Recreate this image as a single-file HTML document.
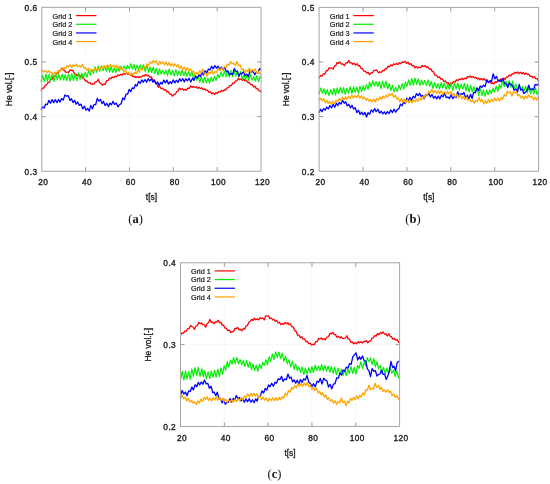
<!DOCTYPE html>
<html><head><meta charset="utf-8"><style>
html,body{margin:0;padding:0;background:#fff;}
svg{display:block;}
.tk{stroke:#9a9a9a;stroke-width:1;}
.gr{stroke:#f8f8f8;stroke-width:1;}
.xl{letter-spacing:0.4px;}
.fr{stroke:#a6a6a6;stroke-width:1.0;}
.tl{font-family:"Liberation Sans", "DejaVu Sans", sans-serif;font-size:8.3px;fill:#1a1a1a;stroke:#1a1a1a;stroke-width:0.35px;}
.lg{font-family:"Liberation Sans", "DejaVu Sans", sans-serif;font-size:7.3px;fill:#1a1a1a;stroke:#1a1a1a;stroke-width:0.2px;}
.al{font-family:"Liberation Sans", "DejaVu Sans", sans-serif;font-size:8.4px;fill:#1a1a1a;stroke:#1a1a1a;stroke-width:0.3px;}
.cap{font-family:"Liberation Serif", "DejaVu Serif", serif;font-size:12.5px;fill:#111;}
</style></head><body>
<svg width="550" height="484" viewBox="0 0 550 484">
<line x1="85.64" y1="7.35" x2="85.64" y2="171.25" class="gr"/>
<line x1="129.48" y1="7.35" x2="129.48" y2="171.25" class="gr"/>
<line x1="173.32" y1="7.35" x2="173.32" y2="171.25" class="gr"/>
<line x1="217.16" y1="7.35" x2="217.16" y2="171.25" class="gr"/>
<line x1="41.8" y1="116.62" x2="261.0" y2="116.62" class="gr"/>
<line x1="41.8" y1="61.98" x2="261.0" y2="61.98" class="gr"/>
<text x="43.20" y="185.05" class="tl xl" text-anchor="middle">20</text>
<line x1="85.64" y1="171.25" x2="85.64" y2="167.25" class="tk"/>
<line x1="85.64" y1="7.35" x2="85.64" y2="11.35" class="tk"/>
<text x="87.04" y="185.05" class="tl xl" text-anchor="middle">40</text>
<line x1="129.48" y1="171.25" x2="129.48" y2="167.25" class="tk"/>
<line x1="129.48" y1="7.35" x2="129.48" y2="11.35" class="tk"/>
<text x="130.88" y="185.05" class="tl xl" text-anchor="middle">60</text>
<line x1="173.32" y1="171.25" x2="173.32" y2="167.25" class="tk"/>
<line x1="173.32" y1="7.35" x2="173.32" y2="11.35" class="tk"/>
<text x="174.72" y="185.05" class="tl xl" text-anchor="middle">80</text>
<line x1="217.16" y1="171.25" x2="217.16" y2="167.25" class="tk"/>
<line x1="217.16" y1="7.35" x2="217.16" y2="11.35" class="tk"/>
<text x="218.56" y="185.05" class="tl xl" text-anchor="middle">100</text>
<text x="262.40" y="185.05" class="tl xl" text-anchor="middle">120</text>
<text x="37.00" y="174.65" class="tl" text-anchor="end">0<tspan dx="0.65">.</tspan><tspan dx="0.35">3</tspan></text>
<line x1="41.8" y1="116.62" x2="45.8" y2="116.62" class="tk"/>
<line x1="261.0" y1="116.62" x2="257.0" y2="116.62" class="tk"/>
<text x="37.00" y="120.02" class="tl" text-anchor="end">0<tspan dx="0.65">.</tspan><tspan dx="0.35">4</tspan></text>
<line x1="41.8" y1="61.98" x2="45.8" y2="61.98" class="tk"/>
<line x1="261.0" y1="61.98" x2="257.0" y2="61.98" class="tk"/>
<text x="37.00" y="65.38" class="tl" text-anchor="end">0<tspan dx="0.65">.</tspan><tspan dx="0.35">5</tspan></text>
<text x="37.00" y="10.75" class="tl" text-anchor="end">0<tspan dx="0.65">.</tspan><tspan dx="0.35">6</tspan></text>
<polyline points="41.0,90.8 42.5,88.1 43.8,88.0 45.2,85.3 46.7,84.8 48.0,82.3 49.4,82.3 50.7,79.7 52.1,79.2 53.6,76.4 54.9,76.2 56.3,73.6 57.7,73.4 59.1,71.0 60.4,70.6 61.8,68.1 63.1,69.8 64.5,70.3 65.8,72.4 67.2,72.0 68.6,72.4 70.1,69.9 71.4,70.5 72.9,70.3 74.3,73.6 75.7,74.0 77.1,75.5 78.6,74.3 80.0,76.0 81.3,75.7 82.7,78.2 84.1,78.8 85.6,81.2 87.0,80.9 88.4,83.0 89.8,82.5 91.1,84.2 92.5,83.8 94.0,84.2 95.3,81.9 96.8,81.8 98.2,79.2 99.5,82.4 101.0,83.5 102.4,85.2 103.8,83.9 105.1,84.5 106.6,80.9 108.1,80.3 109.5,78.1 110.8,78.7 112.3,77.0 113.7,77.7 115.1,76.1 116.4,76.8 117.8,75.0 119.2,75.6 120.6,74.2 122.0,75.1 123.5,73.3 124.9,74.3 126.4,73.0 127.7,74.4 129.0,73.6 130.4,75.1 131.8,74.9 133.1,76.9 134.5,76.3 135.9,77.6 137.2,76.5 138.6,77.6 140.0,76.6 141.3,77.1 142.8,75.4 144.2,76.1 145.6,74.4 146.9,75.7 148.4,75.3 149.8,77.0 151.2,76.8 152.7,79.7 154.1,80.1 155.6,83.1 157.0,84.2 158.4,87.1 159.8,86.6 161.2,88.6 162.7,88.3 164.2,90.2 165.6,89.6 166.9,91.8 168.2,91.5 169.7,94.2 171.0,94.0 172.5,96.1 173.9,94.7 175.3,94.2 176.7,91.5 178.1,90.9 179.5,88.1 180.9,89.5 182.4,88.7 183.7,90.3 185.0,89.3 186.5,90.3 187.8,88.1 189.3,88.4 190.7,85.9 192.1,87.4 193.6,86.4 195.1,87.6 196.4,86.6 197.7,88.3 199.2,87.2 200.5,88.7 201.9,87.8 203.3,89.7 204.8,88.9 206.2,90.3 207.5,90.2 209.0,92.3 210.5,91.9 211.9,93.8 213.3,92.9 214.6,94.4 215.9,92.6 217.4,93.4 218.7,91.5 220.2,92.2 221.5,90.4 222.8,91.2 224.3,89.9 225.6,90.1 227.0,87.8 228.4,87.7 229.8,85.6 231.3,85.5 232.8,83.1 234.2,83.2 235.5,81.0 237.0,80.7 238.3,78.3 239.6,79.8 241.0,78.9 242.3,80.4 243.8,79.1 245.1,81.1 246.6,80.5 248.0,82.7 249.4,82.5 250.8,84.6 252.2,84.6 253.5,86.8 254.9,86.3 256.3,88.7 257.7,88.5 259.1,90.9 260.6,91.0 261.0,92.2" fill="none" stroke="#ff0000" stroke-width="1.3" stroke-linejoin="round"/>
<polyline points="41.0,81.9 42.7,75.2 44.3,81.6 45.9,74.0 47.5,81.0 49.2,74.1 50.7,80.6 52.3,73.7 54.1,81.5 55.7,74.2 57.3,79.6 58.8,74.1 60.4,80.2 62.1,74.1 63.7,80.1 65.2,74.6 66.8,80.6 68.5,73.8 70.1,81.1 71.7,73.5 73.5,80.5 75.2,73.9 76.9,80.6 78.5,72.9 80.1,79.4 81.8,73.1 83.5,78.2 85.2,72.2 86.9,77.2 88.5,70.7 90.3,75.2 91.9,69.4 93.5,73.5 95.0,66.7 96.6,72.3 98.2,65.8 99.8,71.3 101.5,65.9 103.1,70.8 104.7,66.1 106.4,71.3 107.9,65.9 109.6,72.2 111.1,66.5 112.7,72.4 114.2,68.0 115.9,72.4 117.6,66.8 119.1,71.3 120.9,66.2 122.5,70.0 124.1,65.9 125.8,69.5 127.5,65.4 129.2,68.8 130.8,63.7 132.3,69.0 134.0,64.4 135.5,70.4 137.0,65.0 138.6,69.9 140.3,64.9 141.9,69.4 143.5,64.5 145.2,71.6 146.9,65.3 148.6,72.2 150.1,67.0 151.7,72.5 153.3,67.2 154.8,73.9 156.4,68.5 158.0,75.2 159.5,68.9 161.1,74.2 162.8,70.1 164.3,74.4 165.8,70.3 167.5,75.3 169.2,69.0 171.0,75.0 172.6,70.3 174.3,75.8 175.9,69.7 177.5,75.6 179.1,71.0 180.7,75.7 182.2,70.0 183.8,75.5 185.3,71.2 186.9,76.5 188.5,71.4 190.1,76.4 191.9,71.4 193.5,78.6 195.2,73.8 196.7,80.1 198.3,76.0 199.8,82.3 201.4,76.8 203.2,83.1 204.7,77.0 206.3,82.9 208.0,78.2 209.6,83.1 211.2,77.2 212.9,81.6 214.5,76.4 216.1,80.5 217.7,74.5 219.4,77.6 221.1,71.9 222.8,76.9 224.4,71.2 226.0,76.7 227.5,72.1 229.2,76.9 230.9,70.4 232.5,76.7 234.1,70.5 235.8,76.3 237.4,70.7 239.0,77.2 240.6,71.3 242.3,79.3 244.0,74.3 245.5,80.0 247.1,74.5 248.8,80.6 250.4,73.9 252.0,80.4 253.7,76.4 255.3,81.2 256.8,75.5 258.6,81.8 260.1,76.1 261.0,78.5" fill="none" stroke="#00ee00" stroke-width="1.15" stroke-linejoin="round"/>
<polyline points="41.0,109.7 42.6,106.9 44.2,108.1 45.7,104.1 47.4,104.6 48.9,100.3 50.5,103.2 52.1,99.6 53.7,102.6 55.3,99.6 57.0,102.6 58.5,99.5 60.1,102.1 61.6,98.5 63.2,100.1 64.9,94.9 66.6,96.2 68.3,95.6 70.0,100.5 71.5,98.7 73.0,102.6 74.6,100.3 76.1,104.2 77.7,102.0 79.3,105.4 81.0,104.1 82.7,108.9 84.4,106.2 86.0,110.2 87.7,108.4 89.3,111.1 90.8,105.4 92.4,108.8 93.9,104.7 95.7,104.5 97.3,98.4 98.8,101.1 100.5,99.5 102.0,103.6 103.5,101.4 105.1,105.5 106.8,103.3 108.5,106.6 110.0,103.1 111.5,104.8 113.0,101.3 114.6,104.4 116.3,103.0 118.0,106.9 119.5,104.7 121.1,103.7 122.8,98.0 124.4,99.5 126.0,94.2 127.6,94.2 129.2,89.4 130.8,91.6 132.3,87.8 133.9,88.6 135.5,84.5 137.0,86.1 138.6,81.4 140.2,83.4 141.8,79.9 143.3,82.2 145.0,79.7 146.6,82.2 148.2,78.7 149.7,81.0 151.4,78.9 152.9,82.1 154.4,80.1 156.1,84.0 157.6,82.0 159.2,85.5 160.7,82.4 162.2,84.0 163.8,80.1 165.4,82.9 166.9,80.0 168.5,84.1 170.1,81.7 171.6,83.5 173.2,79.9 174.9,82.9 176.4,80.2 178.0,82.4 179.6,78.7 181.1,81.3 182.7,78.5 184.3,81.9 185.8,78.7 187.4,80.8 189.1,78.2 190.8,82.0 192.5,78.2 194.0,80.4 195.7,76.1 197.3,78.1 198.9,74.8 200.4,76.5 201.9,72.4 203.4,75.0 205.1,70.7 206.8,73.1 208.4,69.1 210.0,69.9 211.6,66.3 213.2,68.8 214.9,65.6 216.5,68.2 218.1,66.2 219.8,69.4 221.3,67.1 223.0,70.1 224.7,67.5 226.4,71.9 227.8,70.7 229.5,74.7 231.1,73.6 232.7,74.5 234.3,68.5 235.8,71.3 237.3,71.5 238.8,76.2 240.4,73.3 242.0,73.5 243.6,71.6 245.2,75.6 246.8,74.1 248.4,76.6 250.0,70.5 251.5,72.3 253.1,71.0 254.7,74.8 256.3,72.3 257.9,73.0 259.5,68.7 261.0,69.5" fill="none" stroke="#0000ff" stroke-width="1.3" stroke-linejoin="round"/>
<polyline points="41.0,71.2 42.5,70.2 43.9,72.0 45.5,70.7 47.1,72.6 48.6,70.6 50.1,72.6 51.5,72.1 53.2,74.6 54.8,72.0 56.3,73.4 57.8,70.9 59.5,72.0 60.9,68.8 62.5,69.8 64.0,67.3 65.5,68.9 67.1,65.7 68.6,67.2 70.2,64.9 71.8,67.4 73.3,64.8 74.9,66.1 76.4,64.1 77.8,66.7 79.4,65.4 80.9,67.2 82.5,64.5 83.9,68.3 85.4,67.7 86.9,70.4 88.5,68.5 90.1,71.3 91.5,69.0 93.0,71.1 94.6,68.4 96.1,70.3 97.7,67.9 99.2,70.0 100.9,66.5 102.6,68.5 104.1,65.6 105.7,68.1 107.3,65.0 109.0,67.1 110.4,64.3 111.9,67.0 113.6,65.1 115.0,67.6 116.5,65.5 118.0,68.7 119.4,66.3 121.0,69.6 122.4,68.4 123.9,71.8 125.4,70.3 126.9,73.4 128.6,72.3 130.1,75.8 131.7,72.8 133.2,74.8 134.7,72.1 136.3,73.5 137.9,70.1 139.5,72.0 140.9,68.8 142.4,69.9 144.1,66.5 145.5,68.1 147.1,63.6 148.6,66.0 150.2,61.8 151.8,63.7 153.3,60.5 154.9,62.3 156.5,60.9 158.1,65.2 159.7,61.4 161.3,63.9 162.9,61.7 164.5,65.0 166.0,62.0 167.6,65.4 169.1,62.4 170.5,66.0 172.1,63.6 173.6,66.4 175.1,63.8 176.8,67.0 178.2,64.7 179.7,68.6 181.1,65.9 182.7,69.8 184.3,67.1 185.8,70.8 187.3,67.8 188.9,70.9 190.5,68.8 191.9,72.2 193.5,70.9 195.0,75.3 196.6,72.6 198.1,74.2 199.7,70.7 201.2,72.9 202.7,69.1 204.2,73.9 205.8,73.2 207.2,76.3 208.8,72.1 210.3,73.6 212.0,70.4 213.4,74.2 214.9,71.5 216.5,72.4 218.2,68.4 219.8,70.5 221.3,68.0 222.8,70.6 224.4,66.3 225.9,67.9 227.4,64.0 229.0,65.3 230.5,61.5 232.1,63.7 233.7,63.4 235.3,65.5 236.9,61.5 238.5,65.8 240.2,65.0 241.8,70.1 243.4,68.7 244.8,72.7 246.4,70.4 247.8,71.6 249.3,68.1 250.8,72.4 252.3,69.2 253.8,71.4 255.3,68.9 256.9,73.5 258.5,71.7 260.0,74.1 261.0,73.2" fill="none" stroke="#ffa500" stroke-width="1.3" stroke-linejoin="round"/>
<rect x="50.5" y="12.3" width="48" height="34" fill="#fff"/>
<text x="52.5" y="18.50" class="lg">Grid 1</text>
<line x1="76.1" y1="15.60" x2="96.5" y2="15.60" stroke="#ff0000" stroke-width="1.2"/>
<text x="52.5" y="27.17" class="lg">Grid 2</text>
<line x1="76.1" y1="24.27" x2="96.5" y2="24.27" stroke="#00ee00" stroke-width="1.2"/>
<text x="52.5" y="35.84" class="lg">Grid 3</text>
<line x1="76.1" y1="32.94" x2="96.5" y2="32.94" stroke="#0000ff" stroke-width="1.2"/>
<text x="52.5" y="44.51" class="lg">Grid 4</text>
<line x1="76.1" y1="41.61" x2="96.5" y2="41.61" stroke="#ffa500" stroke-width="1.2"/>
<rect x="41.8" y="7.35" width="219.20" height="163.90" fill="none" class="fr"/>
<text x="151.40" y="199.95" class="al" text-anchor="middle">t[s]</text>
<text transform="translate(11.80,89.40) rotate(-90)" class="al" text-anchor="middle">He vol.[-]</text>
<text x="135.5" y="222.85" class="cap" text-anchor="middle">(<tspan font-weight="bold">a</tspan>)</text>
<line x1="363.00" y1="7.4" x2="363.00" y2="171.25" class="gr"/>
<line x1="406.90" y1="7.4" x2="406.90" y2="171.25" class="gr"/>
<line x1="450.80" y1="7.4" x2="450.80" y2="171.25" class="gr"/>
<line x1="494.70" y1="7.4" x2="494.70" y2="171.25" class="gr"/>
<line x1="319.1" y1="116.63" x2="538.6" y2="116.63" class="gr"/>
<line x1="319.1" y1="62.02" x2="538.6" y2="62.02" class="gr"/>
<text x="320.50" y="185.05" class="tl xl" text-anchor="middle">20</text>
<line x1="363.00" y1="171.25" x2="363.00" y2="167.25" class="tk"/>
<line x1="363.00" y1="7.4" x2="363.00" y2="11.4" class="tk"/>
<text x="364.40" y="185.05" class="tl xl" text-anchor="middle">40</text>
<line x1="406.90" y1="171.25" x2="406.90" y2="167.25" class="tk"/>
<line x1="406.90" y1="7.4" x2="406.90" y2="11.4" class="tk"/>
<text x="408.30" y="185.05" class="tl xl" text-anchor="middle">60</text>
<line x1="450.80" y1="171.25" x2="450.80" y2="167.25" class="tk"/>
<line x1="450.80" y1="7.4" x2="450.80" y2="11.4" class="tk"/>
<text x="452.20" y="185.05" class="tl xl" text-anchor="middle">80</text>
<line x1="494.70" y1="171.25" x2="494.70" y2="167.25" class="tk"/>
<line x1="494.70" y1="7.4" x2="494.70" y2="11.4" class="tk"/>
<text x="496.10" y="185.05" class="tl xl" text-anchor="middle">100</text>
<text x="540.00" y="185.05" class="tl xl" text-anchor="middle">120</text>
<text x="314.30" y="174.65" class="tl" text-anchor="end">0<tspan dx="0.65">.</tspan><tspan dx="0.35">2</tspan></text>
<line x1="319.1" y1="116.63" x2="323.1" y2="116.63" class="tk"/>
<line x1="538.6" y1="116.63" x2="534.6" y2="116.63" class="tk"/>
<text x="314.30" y="120.03" class="tl" text-anchor="end">0<tspan dx="0.65">.</tspan><tspan dx="0.35">3</tspan></text>
<line x1="319.1" y1="62.02" x2="323.1" y2="62.02" class="tk"/>
<line x1="538.6" y1="62.02" x2="534.6" y2="62.02" class="tk"/>
<text x="314.30" y="65.42" class="tl" text-anchor="end">0<tspan dx="0.65">.</tspan><tspan dx="0.35">4</tspan></text>
<text x="314.30" y="10.80" class="tl" text-anchor="end">0<tspan dx="0.65">.</tspan><tspan dx="0.35">5</tspan></text>
<polyline points="319.0,78.2 320.5,75.6 321.9,76.2 323.4,73.8 324.8,74.0 326.3,70.7 327.6,70.8 328.9,67.9 330.3,68.2 331.7,67.9 333.2,69.1 334.5,65.8 335.8,65.6 337.1,62.6 338.6,63.3 340.0,62.0 341.4,64.2 342.9,63.9 344.4,65.7 345.9,62.8 347.4,62.9 348.7,60.6 350.0,62.9 351.4,62.8 352.8,64.3 354.2,63.3 355.6,65.0 357.0,63.7 358.4,66.0 359.7,65.4 361.0,68.4 362.4,68.6 363.9,71.2 365.3,71.2 366.6,72.9 368.1,72.5 369.6,74.6 371.1,72.8 372.4,72.9 373.9,70.3 375.4,70.3 376.8,70.0 378.3,72.7 379.7,71.9 381.2,72.5 382.7,70.3 384.0,70.8 385.4,68.6 386.7,68.7 388.2,66.1 389.5,66.9 390.9,64.9 392.2,65.8 393.7,63.8 395.1,64.7 396.6,63.4 398.0,64.5 399.3,62.6 400.8,63.7 402.3,61.9 403.6,62.5 405.1,61.4 406.5,63.4 408.0,62.2 409.4,64.3 410.8,63.7 412.2,65.9 413.5,65.4 415.0,67.9 416.4,66.6 417.8,68.1 419.2,67.0 420.6,67.8 422.1,65.6 423.5,66.6 425.0,65.6 426.4,67.5 427.8,66.7 429.3,69.0 430.8,68.9 432.2,71.3 433.6,71.9 435.0,75.2 436.5,75.4 437.9,77.5 439.4,76.9 440.8,79.2 442.3,78.7 443.8,81.5 445.3,80.9 446.7,83.1 448.1,82.6 449.5,85.2 451.0,82.9 452.3,83.7 453.7,81.3 455.1,82.0 456.6,79.9 458.0,80.6 459.3,79.0 460.8,79.7 462.2,78.2 463.5,79.5 464.9,78.1 466.2,78.9 467.5,76.7 468.8,77.2 470.2,76.0 471.6,77.5 473.1,76.6 474.5,78.0 475.9,77.4 477.3,79.1 478.6,78.1 479.9,79.8 481.3,78.4 482.8,80.0 484.2,78.4 485.6,80.5 486.9,79.8 488.4,82.1 489.9,81.3 491.2,83.6 492.5,82.8 493.9,83.9 495.3,81.7 496.7,82.3 498.1,80.4 499.5,81.2 500.9,78.8 502.3,80.1 503.7,78.1 505.1,79.4 506.5,77.0 507.8,77.0 509.2,75.0 510.7,75.9 512.0,73.8 513.5,74.2 514.9,72.2 516.4,73.2 517.7,72.0 519.1,73.6 520.4,72.2 521.8,73.9 523.2,72.5 524.6,74.3 525.9,72.9 527.3,74.5 528.7,74.1 530.1,76.5 531.5,76.1 532.8,77.7 534.3,76.6 535.7,78.7 537.2,78.7 538.6,81.3 538.6,80.5" fill="none" stroke="#ff0000" stroke-width="1.3" stroke-linejoin="round"/>
<polyline points="319.0,94.0 320.7,88.0 322.3,93.2 323.9,88.6 325.6,94.5 327.3,89.6 329.0,95.7 330.6,89.5 332.3,94.6 333.9,88.5 335.5,95.1 337.2,88.0 338.7,93.4 340.4,87.5 342.1,93.1 343.6,87.7 345.2,94.4 346.8,88.3 348.5,93.2 350.2,86.8 351.9,93.5 353.5,86.9 355.3,92.3 356.9,87.0 358.4,93.1 360.0,86.1 361.6,91.3 363.3,85.9 364.8,90.7 366.3,84.6 368.1,89.3 369.6,81.9 371.1,87.2 372.8,80.7 374.4,86.0 376.0,81.6 377.7,86.5 379.3,81.5 380.9,88.8 382.5,81.0 384.2,87.5 385.9,81.1 387.6,88.7 389.3,83.7 390.9,90.5 392.5,85.1 394.0,91.9 395.7,87.3 397.2,91.6 398.9,85.0 400.4,89.7 402.2,83.7 403.8,89.0 405.4,82.1 407.0,86.4 408.6,79.9 410.2,85.3 411.7,78.5 413.5,85.1 415.1,78.2 416.7,84.5 418.3,78.9 420.0,85.4 421.5,80.1 423.0,84.8 424.7,80.4 426.4,85.4 428.1,79.8 429.7,86.3 431.4,81.5 433.0,88.4 434.7,82.5 436.3,88.0 437.9,83.6 439.6,88.9 441.1,82.7 442.6,88.0 444.3,83.0 446.0,89.3 447.7,84.4 449.4,89.3 451.0,83.4 452.8,90.4 454.4,83.4 456.1,88.9 457.8,83.0 459.4,90.0 461.0,84.1 462.7,89.0 464.4,83.3 466.0,90.9 467.5,84.3 469.1,92.1 470.7,85.4 472.2,91.6 473.9,86.7 475.5,92.3 477.1,88.1 478.6,95.4 480.3,88.9 482.0,95.5 483.5,89.8 485.0,96.4 486.6,90.2 488.1,94.7 489.8,89.9 491.4,93.6 493.0,88.1 494.6,92.2 496.2,86.2 497.8,91.3 499.4,84.4 501.0,88.2 502.6,81.6 504.3,86.7 505.9,81.0 507.5,85.9 509.2,80.6 510.9,87.3 512.6,81.0 514.1,88.5 515.9,83.9 517.5,89.8 519.1,85.6 520.7,90.4 522.4,86.4 524.0,91.2 525.7,86.1 527.2,92.8 528.9,87.6 530.6,93.9 532.3,88.8 533.9,93.9 535.5,87.8 537.0,94.6 538.6,90.5" fill="none" stroke="#00ee00" stroke-width="1.15" stroke-linejoin="round"/>
<polyline points="319.0,112.7 320.5,109.2 322.0,111.8 323.6,108.6 325.2,110.1 326.8,107.1 328.3,108.9 329.9,105.5 331.5,107.9 333.2,104.3 334.8,107.4 336.3,103.2 337.8,105.6 339.3,102.6 341.0,104.1 342.6,100.4 344.2,103.2 345.7,101.8 347.2,105.9 348.8,104.2 350.4,107.8 352.0,105.3 353.6,109.1 355.2,107.7 356.9,112.5 358.5,110.3 360.0,114.4 361.6,112.1 363.2,114.8 364.9,112.5 366.5,117.0 368.0,112.7 369.7,114.3 371.3,109.9 373.0,112.2 374.6,108.6 376.2,111.7 378.0,109.3 379.5,113.1 381.2,111.2 382.7,113.9 384.3,111.8 385.9,114.2 387.5,111.6 389.1,113.6 390.7,109.9 392.4,112.6 394.1,109.3 395.7,112.2 397.4,109.4 398.9,108.9 400.4,104.1 402.0,105.7 403.6,102.2 405.2,103.5 406.8,98.2 408.4,101.0 410.0,97.3 411.5,100.4 413.2,96.2 414.9,97.9 416.5,93.6 418.1,95.6 419.6,93.3 421.1,96.4 422.6,95.3 424.1,98.8 425.7,95.2 427.4,95.7 428.9,93.6 430.4,97.0 432.0,94.4 433.7,98.3 435.3,96.2 436.8,98.9 438.3,96.0 439.8,99.0 441.5,95.1 443.1,96.9 444.5,92.8 446.3,97.7 447.9,97.0 449.5,98.5 451.1,94.8 452.8,98.7 454.3,96.5 456.1,97.6 457.7,91.7 459.4,96.0 461.0,93.5 462.5,94.4 464.0,92.4 465.7,98.2 467.3,95.2 469.0,98.9 470.5,94.3 472.1,98.6 473.6,92.3 475.3,92.8 476.9,87.9 478.6,90.6 480.2,86.0 481.9,87.4 483.5,85.1 485.1,86.6 486.8,79.9 488.4,82.6 490.1,80.6 491.6,81.6 493.1,73.8 494.8,78.8 496.5,76.5 498.1,80.9 499.7,80.2 501.2,81.8 502.9,78.5 504.6,83.6 506.3,84.0 507.8,87.5 509.3,83.2 511.0,84.4 512.5,85.8 514.2,90.2 515.8,88.9 517.5,92.1 519.2,84.5 520.8,90.1 522.3,89.3 523.8,93.6 525.5,92.1 527.1,90.6 528.7,85.2 530.3,89.7 532.0,88.7 533.6,89.8 535.1,84.5 536.7,85.2 538.4,83.7 538.6,85.8" fill="none" stroke="#0000ff" stroke-width="1.3" stroke-linejoin="round"/>
<polyline points="319.0,99.8 320.7,98.2 322.3,100.9 323.7,98.6 325.2,102.5 326.8,100.3 328.3,103.4 329.9,101.8 331.4,104.1 332.9,101.3 334.6,103.3 336.0,100.3 337.7,101.7 339.3,98.6 340.9,100.3 342.5,97.1 344.0,99.9 345.6,96.8 347.1,99.4 348.6,96.1 350.3,98.6 351.9,95.2 353.4,98.1 355.0,95.5 356.6,97.5 358.2,94.7 359.9,98.2 361.4,95.9 362.9,98.9 364.4,97.0 366.1,100.3 367.7,98.5 369.2,101.4 370.7,99.5 372.2,102.0 373.8,99.0 375.3,101.9 376.8,98.3 378.4,100.2 380.1,97.0 381.5,99.4 383.0,96.2 384.5,98.1 386.1,95.2 387.6,97.2 389.1,94.0 390.6,95.4 392.1,93.4 393.7,97.3 395.3,95.3 396.8,99.1 398.2,98.1 399.8,101.7 401.3,98.5 402.8,102.2 404.2,99.0 405.7,102.8 407.3,99.6 408.9,102.9 410.5,100.5 412.0,102.9 413.5,99.7 415.0,101.8 416.6,99.0 418.0,101.3 419.6,97.9 421.2,100.1 422.7,96.5 424.2,97.9 425.6,93.9 427.2,95.6 428.7,91.6 430.2,92.5 431.9,89.2 433.4,92.9 434.9,90.7 436.4,93.5 438.0,90.9 439.6,93.7 441.2,90.7 442.9,94.0 444.4,91.9 446.0,94.4 447.7,91.2 449.2,94.2 450.9,91.6 452.4,95.6 453.9,93.4 455.5,97.1 457.0,94.5 458.6,97.8 460.2,94.8 461.8,98.8 463.4,96.4 464.9,99.6 466.5,97.1 468.0,100.5 469.6,98.9 471.1,101.7 472.7,100.0 474.2,103.3 475.8,100.4 477.4,101.6 479.0,97.2 480.6,101.7 482.1,99.4 483.6,103.9 485.2,100.8 486.8,103.1 488.4,99.6 490.0,102.4 491.6,99.1 493.2,101.3 494.7,98.0 496.3,101.0 498.0,98.2 499.5,101.0 501.1,97.5 502.6,99.3 504.2,94.6 505.7,96.4 507.3,91.2 508.9,92.9 510.4,91.9 511.9,96.0 513.4,91.7 514.9,93.1 516.4,91.3 517.9,95.8 519.4,94.4 520.9,97.9 522.5,96.2 523.9,99.2 525.5,95.9 527.1,98.3 528.7,94.8 530.3,97.8 531.9,96.2 533.6,99.7 535.1,97.3 536.6,100.2 538.0,96.9 538.6,98.6" fill="none" stroke="#ffa500" stroke-width="1.3" stroke-linejoin="round"/>
<rect x="327.8" y="12.3" width="48" height="34" fill="#fff"/>
<text x="329.8" y="18.50" class="lg">Grid 1</text>
<line x1="353.40000000000003" y1="15.60" x2="373.8" y2="15.60" stroke="#ff0000" stroke-width="1.2"/>
<text x="329.8" y="27.17" class="lg">Grid 2</text>
<line x1="353.40000000000003" y1="24.27" x2="373.8" y2="24.27" stroke="#00ee00" stroke-width="1.2"/>
<text x="329.8" y="35.84" class="lg">Grid 3</text>
<line x1="353.40000000000003" y1="32.94" x2="373.8" y2="32.94" stroke="#0000ff" stroke-width="1.2"/>
<text x="329.8" y="44.51" class="lg">Grid 4</text>
<line x1="353.40000000000003" y1="41.61" x2="373.8" y2="41.61" stroke="#ffa500" stroke-width="1.2"/>
<rect x="319.1" y="7.4" width="219.50" height="163.85" fill="none" class="fr"/>
<text x="428.85" y="199.95" class="al" text-anchor="middle">t[s]</text>
<text transform="translate(289.10,89.42) rotate(-90)" class="al" text-anchor="middle">He vol.[-]</text>
<text x="413" y="222.85" class="cap" text-anchor="middle">(<tspan font-weight="bold">b</tspan>)</text>
<line x1="224.32" y1="262.8" x2="224.32" y2="426.45" class="gr"/>
<line x1="268.14" y1="262.8" x2="268.14" y2="426.45" class="gr"/>
<line x1="311.96" y1="262.8" x2="311.96" y2="426.45" class="gr"/>
<line x1="355.78" y1="262.8" x2="355.78" y2="426.45" class="gr"/>
<line x1="180.5" y1="344.62" x2="399.6" y2="344.62" class="gr"/>
<text x="181.90" y="441.15" class="tl xl" text-anchor="middle">20</text>
<line x1="224.32" y1="426.45" x2="224.32" y2="422.45" class="tk"/>
<line x1="224.32" y1="262.8" x2="224.32" y2="266.8" class="tk"/>
<text x="225.72" y="441.15" class="tl xl" text-anchor="middle">40</text>
<line x1="268.14" y1="426.45" x2="268.14" y2="422.45" class="tk"/>
<line x1="268.14" y1="262.8" x2="268.14" y2="266.8" class="tk"/>
<text x="269.54" y="441.15" class="tl xl" text-anchor="middle">60</text>
<line x1="311.96" y1="426.45" x2="311.96" y2="422.45" class="tk"/>
<line x1="311.96" y1="262.8" x2="311.96" y2="266.8" class="tk"/>
<text x="313.36" y="441.15" class="tl xl" text-anchor="middle">80</text>
<line x1="355.78" y1="426.45" x2="355.78" y2="422.45" class="tk"/>
<line x1="355.78" y1="262.8" x2="355.78" y2="266.8" class="tk"/>
<text x="357.18" y="441.15" class="tl xl" text-anchor="middle">100</text>
<text x="401.00" y="441.15" class="tl xl" text-anchor="middle">120</text>
<text x="175.70" y="429.85" class="tl" text-anchor="end">0<tspan dx="0.65">.</tspan><tspan dx="0.35">2</tspan></text>
<line x1="180.5" y1="344.62" x2="184.5" y2="344.62" class="tk"/>
<line x1="399.6" y1="344.62" x2="395.6" y2="344.62" class="tk"/>
<text x="175.70" y="348.02" class="tl" text-anchor="end">0<tspan dx="0.65">.</tspan><tspan dx="0.35">3</tspan></text>
<text x="175.70" y="266.20" class="tl" text-anchor="end">0<tspan dx="0.65">.</tspan><tspan dx="0.35">4</tspan></text>
<polyline points="180.6,335.0 182.0,333.0 183.5,333.1 184.9,331.0 186.2,331.4 187.6,328.7 189.0,328.7 190.4,325.7 191.7,326.3 193.0,327.0 194.5,329.3 195.9,326.1 197.4,325.5 198.8,322.5 200.2,323.8 201.5,323.0 202.9,324.7 204.3,324.9 205.8,327.0 207.1,323.7 208.5,322.8 209.9,319.4 211.2,322.3 212.5,322.2 214.0,323.6 215.3,321.9 216.7,322.2 218.0,320.3 219.5,322.7 220.9,322.4 222.2,325.1 223.5,325.1 225.0,328.0 226.4,328.3 227.8,330.7 229.3,330.0 230.6,332.4 232.1,331.8 233.5,331.4 234.9,328.5 236.3,328.5 237.6,327.4 239.1,329.8 240.5,329.4 242.0,330.8 243.3,328.5 244.7,329.3 246.0,326.2 247.4,325.4 248.8,322.3 250.2,321.3 251.7,319.4 253.1,320.4 254.4,318.2 255.8,319.8 257.3,318.9 258.7,319.9 260.1,317.6 261.4,318.6 262.8,318.1 264.3,319.9 265.7,315.8 267.2,315.9 268.5,316.0 269.9,318.6 271.4,318.0 272.7,320.0 274.0,319.3 275.4,321.3 276.7,320.6 278.2,323.0 279.5,322.3 280.9,324.8 282.3,323.6 283.7,324.3 285.0,322.4 286.4,323.8 287.7,322.7 289.0,324.5 290.4,323.9 291.8,326.5 293.1,326.8 294.6,330.4 296.1,331.4 297.6,335.0 299.0,335.1 300.4,337.6 301.7,336.8 303.1,339.1 304.6,338.8 305.9,341.6 307.3,341.3 308.7,343.8 310.1,343.2 311.6,345.0 313.1,344.3 314.5,344.6 315.8,341.6 317.2,341.5 318.6,338.6 319.9,338.9 321.3,338.0 322.6,339.5 324.0,338.6 325.5,339.8 327.0,337.0 328.5,336.5 330.0,333.2 331.4,333.9 332.8,332.4 334.3,334.7 335.6,334.7 336.9,337.3 338.4,336.3 339.9,337.9 341.3,336.8 342.7,338.7 344.1,338.4 345.4,338.0 346.9,335.8 348.2,338.9 349.5,339.2 351.0,342.5 352.3,342.0 353.7,343.9 355.1,342.6 356.6,343.8 358.1,341.5 359.6,342.9 360.9,341.6 362.2,343.1 363.6,341.3 365.1,341.5 366.4,340.6 367.8,342.8 369.3,341.1 370.6,341.0 371.9,338.2 373.4,337.9 374.8,335.5 376.1,336.1 377.5,333.6 378.9,334.6 380.4,332.6 381.7,333.6 383.1,332.0 384.5,334.1 386.0,334.0 387.5,336.0 388.8,333.7 390.1,336.3 391.4,336.6 392.9,339.2 394.3,338.5 395.6,340.1 397.1,339.5 398.5,342.3 399.7,342.5" fill="none" stroke="#ff0000" stroke-width="1.3" stroke-linejoin="round"/>
<polyline points="180.6,379.8 182.2,371.3 183.8,380.1 185.5,370.9 187.0,379.1 188.6,371.6 190.3,379.5 191.8,368.8 193.5,376.4 195.1,367.7 196.7,375.5 198.3,367.3 200.0,376.5 201.8,368.8 203.3,377.0 204.8,370.7 206.4,379.0 208.1,371.8 209.8,378.7 211.3,370.8 213.0,377.4 214.5,370.4 216.1,377.3 217.8,369.0 219.4,376.6 220.9,367.7 222.5,374.3 224.1,365.5 225.6,370.4 227.3,361.6 228.9,367.1 230.5,359.9 232.1,364.1 233.6,357.6 235.2,363.6 236.9,357.3 238.5,363.9 240.1,359.5 241.8,364.9 243.4,360.5 245.0,366.5 246.6,360.3 248.2,367.3 249.9,361.9 251.5,369.6 253.0,364.2 254.6,370.5 256.3,365.1 257.9,371.4 259.4,364.2 261.2,368.5 262.7,362.3 264.3,365.4 265.8,359.7 267.5,364.7 269.1,356.7 270.7,361.5 272.3,354.0 274.0,359.6 275.6,351.8 277.3,357.3 278.9,352.0 280.6,358.7 282.2,353.0 283.8,361.3 285.6,356.2 287.3,363.8 289.0,359.7 290.7,366.9 292.5,361.1 294.1,369.4 295.6,363.9 297.3,370.6 298.9,366.9 300.5,372.4 302.0,366.8 303.7,374.5 305.4,368.1 307.0,373.9 308.7,367.5 310.3,373.0 311.9,366.5 313.5,372.5 315.2,365.2 316.8,370.7 318.4,366.0 320.0,370.6 321.6,364.5 323.2,370.8 324.9,365.4 326.5,371.2 328.1,366.2 329.8,372.3 331.4,366.7 333.1,373.4 334.7,367.1 336.3,374.7 338.1,368.0 339.8,374.7 341.5,369.1 343.0,375.6 344.6,369.7 346.2,375.7 347.8,369.1 349.3,373.5 351.0,366.4 352.7,373.5 354.2,367.3 355.9,374.1 357.6,365.3 359.1,368.6 360.8,361.7 362.5,368.5 364.2,361.6 365.7,365.9 367.2,357.7 368.9,361.9 370.6,357.8 372.1,364.4 373.8,358.4 375.4,367.0 377.0,361.7 378.6,368.8 380.2,365.4 381.9,373.3 383.5,367.5 385.3,374.0 387.0,367.9 388.6,373.6 390.2,367.1 391.8,373.2 393.5,370.0 395.2,376.7 396.9,370.8 398.5,377.8 399.6,375.5" fill="none" stroke="#00ee00" stroke-width="1.15" stroke-linejoin="round"/>
<polyline points="180.6,395.2 182.2,390.5 183.8,394.1 185.4,392.1 187.0,395.7 188.7,390.8 190.3,391.4 191.9,387.1 193.4,389.9 195.1,384.8 196.8,386.5 198.2,382.4 199.7,384.9 201.3,382.0 202.9,384.2 204.5,380.1 206.2,383.9 207.8,383.4 209.4,388.3 211.1,386.2 212.7,392.5 214.3,392.2 215.8,395.7 217.3,392.2 218.9,398.9 220.6,398.8 222.1,402.9 223.7,399.4 225.3,404.3 226.9,402.4 228.5,402.3 230.0,398.5 231.7,402.0 233.2,398.4 234.7,400.3 236.3,395.5 237.8,398.5 239.5,397.5 241.1,401.0 242.7,398.6 244.3,402.2 245.9,398.9 247.6,401.8 249.2,398.8 250.8,402.1 252.5,399.8 254.1,402.7 255.6,398.9 257.1,401.0 258.8,396.1 260.4,396.1 262.0,390.8 263.6,393.0 265.3,388.3 266.8,390.1 268.5,385.0 270.0,386.7 271.7,383.3 273.4,386.3 275.0,382.2 276.5,383.2 278.2,378.7 279.9,379.6 281.6,376.4 283.1,381.3 284.8,378.9 286.3,379.7 288.0,374.0 289.5,378.2 291.1,377.1 292.6,381.8 294.1,379.9 295.7,383.1 297.2,380.2 298.9,383.7 300.5,379.6 302.1,382.4 303.6,378.8 305.3,380.1 307.0,375.4 308.7,382.0 310.3,383.5 312.0,386.4 313.6,383.7 315.3,386.9 317.0,381.1 318.7,382.2 320.3,378.5 322.0,384.1 323.7,378.1 325.3,380.2 326.9,380.8 328.5,387.0 330.1,384.4 331.8,388.9 333.4,384.2 335.0,383.7 336.7,377.8 338.4,378.0 340.0,373.2 341.5,375.1 343.1,370.0 344.8,371.4 346.3,367.1 348.0,368.2 349.5,363.6 351.1,364.4 352.8,356.9 354.4,354.8 356.0,352.8 357.7,360.0 359.3,356.7 360.9,359.3 362.5,356.0 364.1,360.6 365.8,361.1 367.4,368.9 368.9,370.7 370.5,376.7 372.1,368.6 373.8,371.3 375.4,370.5 376.9,376.2 378.3,374.5 380.0,374.0 381.6,370.1 383.1,374.3 384.6,374.1 386.2,379.6 387.7,375.9 389.2,372.1 390.9,361.5 392.6,367.7 394.1,366.3 395.6,371.0 397.2,362.4 398.8,361.5 399.6,361.0" fill="none" stroke="#0000ff" stroke-width="1.3" stroke-linejoin="round"/>
<polyline points="180.6,398.1 182.2,395.6 183.7,398.9 185.2,397.2 186.8,400.9 188.4,398.4 190.0,402.0 191.5,400.4 193.1,403.3 194.8,401.7 196.4,404.6 197.9,401.0 199.3,402.9 201.0,399.0 202.4,401.4 204.1,397.5 205.6,399.4 207.1,396.8 208.6,400.6 210.0,398.2 211.7,400.9 213.2,397.5 214.7,400.1 216.2,396.7 217.8,400.1 219.4,397.1 220.9,400.4 222.5,398.1 224.0,401.4 225.6,399.0 227.1,402.3 228.7,399.8 230.3,402.4 231.8,399.7 233.4,402.1 235.0,399.5 236.6,401.6 238.1,398.8 239.7,400.7 241.2,397.7 242.7,399.9 244.4,396.1 246.0,397.7 247.7,394.0 249.2,396.6 250.8,393.5 252.3,396.0 253.8,393.3 255.3,396.1 256.8,393.6 258.5,397.8 259.9,395.7 261.6,399.6 263.1,397.1 264.7,400.2 266.3,397.9 267.9,401.4 269.4,398.3 271.0,400.7 272.7,397.7 274.3,400.8 275.8,397.6 277.3,400.4 278.9,397.4 280.5,399.8 282.0,396.7 283.6,398.4 285.2,393.4 286.9,395.4 288.4,390.5 290.1,392.2 291.6,387.5 293.1,389.1 294.7,385.7 296.3,388.0 297.9,383.6 299.6,386.4 301.2,383.5 302.6,386.3 304.2,383.0 305.7,385.6 307.3,382.4 308.9,386.8 310.4,385.3 311.9,389.4 313.5,387.5 315.0,390.5 316.6,388.1 318.2,393.0 319.7,391.2 321.2,395.0 322.7,393.0 324.2,397.0 325.7,395.0 327.2,399.3 328.7,397.7 330.2,401.1 331.8,399.4 333.4,403.1 335.0,400.9 336.6,404.3 338.2,401.7 339.8,402.8 341.3,398.0 342.9,402.9 344.5,400.9 346.0,405.9 347.5,401.1 349.0,402.8 350.6,398.4 352.0,400.4 353.6,397.2 355.0,399.7 356.5,395.8 358.1,398.9 359.7,395.3 361.2,397.1 362.8,392.9 364.4,395.1 365.9,389.5 367.4,390.3 368.9,385.2 370.5,389.8 371.9,388.3 373.4,389.0 375.0,383.3 376.6,387.3 378.3,385.4 379.9,389.4 381.3,387.2 382.9,391.4 384.6,390.0 386.1,392.2 387.6,389.9 389.2,392.5 390.6,391.2 392.1,395.5 393.7,393.9 395.3,397.4 396.9,395.1 398.4,399.2 399.7,398.1" fill="none" stroke="#ffa500" stroke-width="1.3" stroke-linejoin="round"/>
<rect x="189.0" y="267.59999999999997" width="48" height="34" fill="#fff"/>
<text x="191.0" y="273.80" class="lg">Grid 1</text>
<line x1="214.6" y1="270.90" x2="235.0" y2="270.90" stroke="#ff0000" stroke-width="1.2"/>
<text x="191.0" y="282.47" class="lg">Grid 2</text>
<line x1="214.6" y1="279.57" x2="235.0" y2="279.57" stroke="#00ee00" stroke-width="1.2"/>
<text x="191.0" y="291.14" class="lg">Grid 3</text>
<line x1="214.6" y1="288.24" x2="235.0" y2="288.24" stroke="#0000ff" stroke-width="1.2"/>
<text x="191.0" y="299.81" class="lg">Grid 4</text>
<line x1="214.6" y1="296.91" x2="235.0" y2="296.91" stroke="#ffa500" stroke-width="1.2"/>
<rect x="180.5" y="262.8" width="219.10" height="163.65" fill="none" class="fr"/>
<text x="290.05" y="456.05" class="al" text-anchor="middle">t[s]</text>
<text transform="translate(150.50,344.73) rotate(-90)" class="al" text-anchor="middle">He vol.[-]</text>
<text x="274.5" y="478.05" class="cap" text-anchor="middle">(<tspan font-weight="bold">c</tspan>)</text>
</svg>
</body></html>
